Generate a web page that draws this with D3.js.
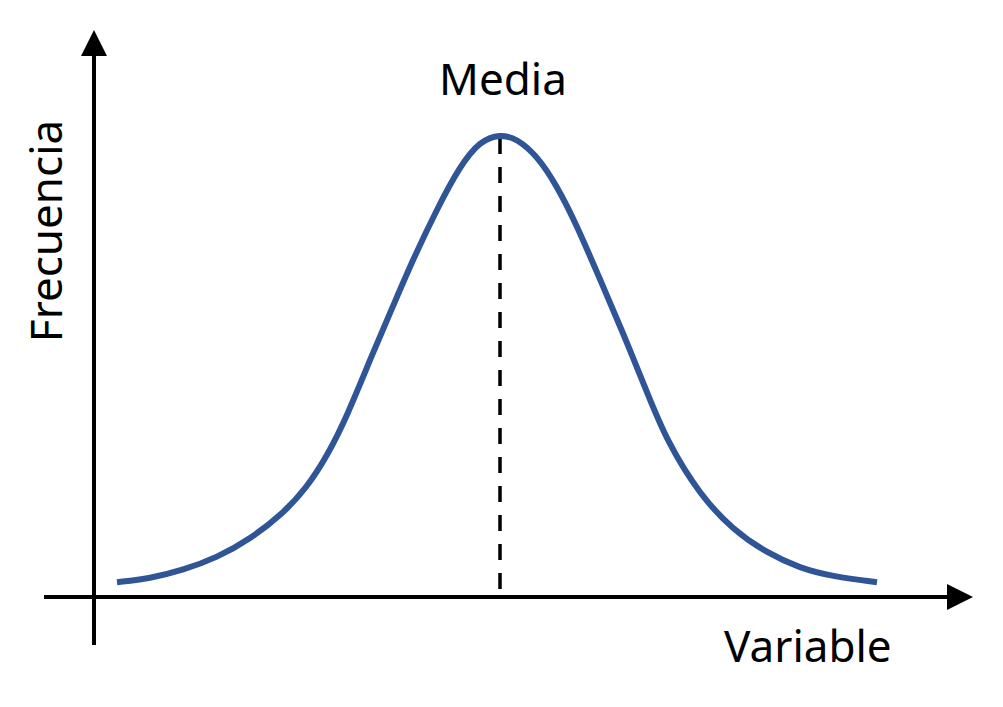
<!DOCTYPE html>
<html>
<head>
<meta charset="utf-8">
<script src="https://d3js.org/d3.v7.min.js"></script>
<style>
body { margin: 0; background: #fff; }
svg { display: block; }
text { font-family: 'Noto Sans', 'Open Sans', sans-serif; fill: #000; }
</style>
</head>
<body>
<svg id="chart"></svg>
<script>

// Curve: x offset from the mean, relative frequency (peak = 1)
var curveX = [-383, -350, -317, -283, -250, -217, -193, -173, -153, -127, -107, -87, -63, -40, -20, 0,
              17, 37, 57, 77, 100, 123, 147, 167, 200, 233, 267, 300, 333, 377];
var curveY = [0.032, 0.040, 0.058, 0.085, 0.125, 0.180, 0.237, 0.304, 0.390, 0.528, 0.628, 0.729, 0.838, 0.931, 0.985, 1.0,
              0.990, 0.953, 0.888, 0.802, 0.686, 0.571, 0.442, 0.336, 0.220, 0.145, 0.095, 0.062, 0.044, 0.032];

var meanX = 0;
var meanLabel = "Media";
var xLabel = "Variable";
var yLabel = "Frecuencia";

var width = 1003;
var height = 707;

var svg = d3.select("#chart").attr("width", width).attr("height", height);

var xScale = d3.scaleLinear()
    .domain([-400, 400])
    .range([100, 900]);

var yScale = d3.scaleLinear()
    .domain([0, 1])
    .range([597, 134]);

// Axes: plain lines with arrow heads
var axisX0 = 44, axisX1 = 973;    // horizontal axis extent
var axisY0 = 645, axisY1 = 30;    // vertical axis extent
var originX = 94, originY = yScale(0);
var head = 26, halfHead = 13;

svg.append("line")
    .attr("x1", axisX0).attr("y1", originY)
    .attr("x2", axisX1 - head).attr("y2", originY)
    .attr("stroke", "#000").attr("stroke-width", 4);

svg.append("path")
    .attr("d", "M" + axisX1 + "," + originY +
               "L" + (axisX1 - head) + "," + (originY - halfHead) +
               "L" + (axisX1 - head) + "," + (originY + halfHead) + "Z")
    .attr("fill", "#000");

svg.append("line")
    .attr("x1", originX).attr("y1", axisY0)
    .attr("x2", originX).attr("y2", axisY1 + head)
    .attr("stroke", "#000").attr("stroke-width", 4);

svg.append("path")
    .attr("d", "M" + originX + "," + axisY1 +
               "L" + (originX - halfHead) + "," + (axisY1 + head) +
               "L" + (originX + halfHead) + "," + (axisY1 + head) + "Z")
    .attr("fill", "#000");

// Dashed line at the mean
svg.append("line")
    .attr("x1", xScale(meanX)).attr("y1", yScale(1) + 4)
    .attr("x2", xScale(meanX)).attr("y2", originY - 8)
    .attr("stroke", "#000")
    .attr("stroke-width", 3.5)
    .attr("stroke-dasharray", "16,13");

// Bell curve
var points = curveX.map(function (x, i) { return [x, curveY[i]]; });

var line = d3.line()
    .x(function (d) { return xScale(d[0]); })
    .y(function (d) { return yScale(d[1]); })
    .curve(d3.curveBasis);

svg.append("path")
    .datum(points)
    .attr("d", line)
    .attr("fill", "none")
    .attr("stroke", "#2f5597")
    .attr("stroke-width", 6)
    .attr("stroke-linecap", "butt");

// Labels
svg.append("text")
    .attr("x", xScale(meanX) + 3)
    .attr("y", 95)
    .attr("text-anchor", "middle")
    .style("font-size", "44px")
    .text(meanLabel);

svg.append("text")
    .attr("x", 724)
    .attr("y", 662)
    .attr("text-anchor", "start")
    .style("font-size", "44px")
    .text(xLabel);

svg.append("text")
    .attr("transform", "translate(62,231) rotate(-90)")
    .attr("text-anchor", "middle")
    .style("font-size", "44px")
    .text(yLabel);

</script>
</body>
</html>
